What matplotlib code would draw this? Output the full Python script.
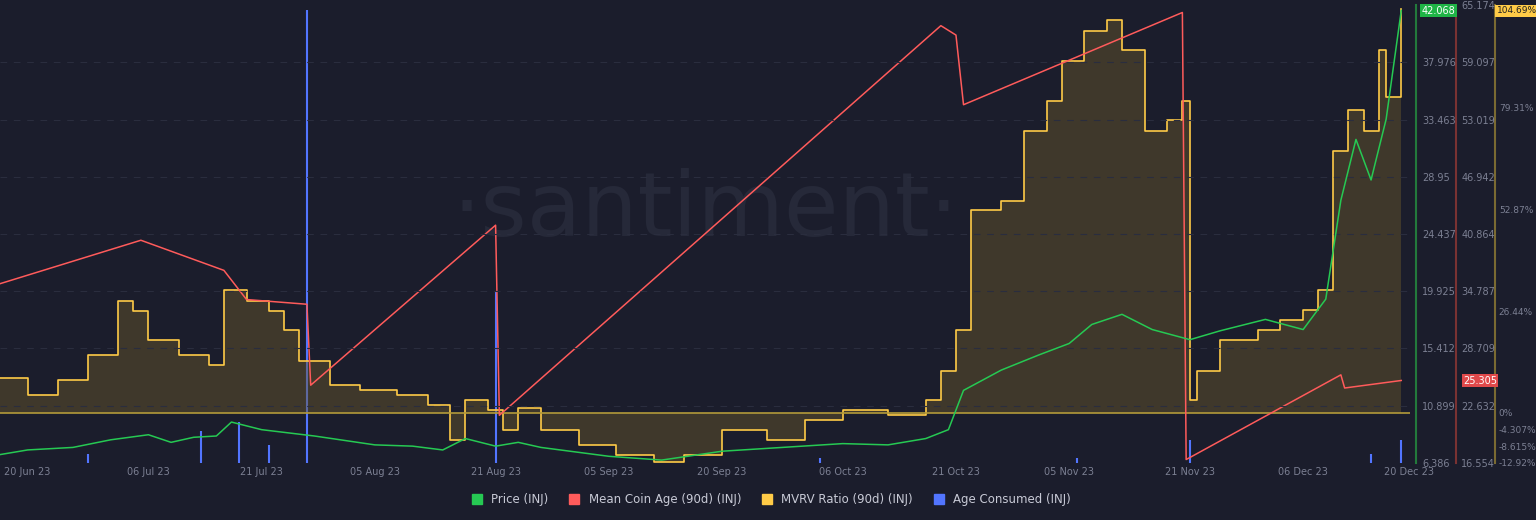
import numpy as np
import matplotlib.pyplot as plt
import pandas as pd
from matplotlib.lines import Line2D

# ---- data ----
price_dates = ["2023-06-16", "2023-06-20", "2023-06-26", "2023-07-01", "2023-07-06", "2023-07-09", "2023-07-12",
               "2023-07-15", "2023-07-17", "2023-07-21", "2023-07-28", "2023-08-05", "2023-08-10", "2023-08-14",
               "2023-08-17", "2023-08-21", "2023-08-24", "2023-08-27", "2023-09-05", "2023-09-12", "2023-09-20",
               "2023-09-28", "2023-10-06", "2023-10-12", "2023-10-17", "2023-10-20", "2023-10-22", "2023-10-27",
               "2023-11-01", "2023-11-05", "2023-11-08", "2023-11-12", "2023-11-16", "2023-11-21", "2023-11-25",
               "2023-12-01", "2023-12-06", "2023-12-09", "2023-12-11", "2023-12-13", "2023-12-15", "2023-12-17",
               "2023-12-19"]
price = [7.0, 7.4, 7.6, 8.2, 8.6, 8.0, 8.4, 8.5, 9.6, 9.0, 8.5, 7.8, 7.7, 7.4,
         8.3, 7.7, 8.0, 7.6, 6.9, 6.6, 7.3, 7.6, 7.9, 7.8, 8.3, 9.0, 12.1, 13.7,
         14.9, 15.8, 17.3, 18.1, 16.9, 16.1, 16.8, 17.7, 16.9, 19.3, 27.1, 31.9, 28.7, 33.5,
         42.07]

age_dates = ["2023-06-16 00:00", "2023-07-05 00:00", "2023-07-16 00:00", "2023-07-19 00:00", "2023-07-27 00:00",
             "2023-07-27 12:00", "2023-08-21 00:00", "2023-08-21 12:00", "2023-10-19 00:00", "2023-10-21 00:00",
             "2023-10-22 00:00", "2023-11-20 00:00", "2023-11-20 12:00", "2023-12-11 00:00", "2023-12-11 12:00",
             "2023-12-19 00:00"]
mean_age = [35.5, 40.2, 37.0, 33.9, 33.4, 24.8,
            41.8, 21.6, 63.0, 62.0, 54.6, 64.4,
            16.9, 25.9, 24.5, 25.3]

mvrv_dates = ["2023-06-16", "2023-06-20", "2023-06-24", "2023-06-28", "2023-07-02", "2023-07-04", "2023-07-06",
              "2023-07-10", "2023-07-14", "2023-07-16", "2023-07-19", "2023-07-22", "2023-07-24", "2023-07-26",
              "2023-07-30", "2023-08-03", "2023-08-08", "2023-08-12", "2023-08-15", "2023-08-17", "2023-08-20",
              "2023-08-22", "2023-08-24", "2023-08-27", "2023-09-01", "2023-09-06", "2023-09-11", "2023-09-15",
              "2023-09-20", "2023-09-26", "2023-10-01", "2023-10-06", "2023-10-12", "2023-10-17", "2023-10-19",
              "2023-10-21", "2023-10-23", "2023-10-27", "2023-10-30", "2023-11-02", "2023-11-04", "2023-11-07",
              "2023-11-10", "2023-11-12", "2023-11-15", "2023-11-18", "2023-11-20", "2023-11-21", "2023-11-22",
              "2023-11-25", "2023-11-30", "2023-12-03", "2023-12-06", "2023-12-08", "2023-12-10", "2023-12-12",
              "2023-12-14", "2023-12-16", "2023-12-17", "2023-12-19"]
mvrv = [9.0, 4.7, 8.5, 15.0, 29.0, 26.5, 19.0,
        15.0, 12.4, 32.0, 29.0, 26.5, 21.5, 13.5,
        7.3, 6.0, 4.7, 2.0, -7.0, 3.4, 0.8,
        -4.4, 1.3, -4.4, -8.3, -10.9, -12.7, -10.9,
        -4.4, -7.0, -1.8, 0.8, -0.5, 3.4, 11.0,
        21.5, 52.6, 55.0, 73.0, 81.0, 91.4, 99.0,
        102.0, 94.0, 73.0, 76.0, 81.0, 3.4, 11.0,
        19.0, 21.5, 24.0, 26.7, 32.0, 68.0, 78.5,
        73.0, 94.0, 82.0, 104.69]

spike_dates = ["2023-06-28", "2023-07-13", "2023-07-18", "2023-07-22", "2023-07-27", "2023-08-21",
               "2023-10-03", "2023-11-06", "2023-11-21", "2023-12-15", "2023-12-19"]
age_consumed = [0.02, 0.07, 0.09, 0.04, 1.0, 0.38, 0.01, 0.01, 0.05, 0.02, 0.05]

bg = "#1b1d2c"
grey = "#7c8093"
c_price, c_age, c_mvrv, c_cons = "#26c953", "#ff5b5b", "#ffcb47", "#5275ff"

fig = plt.figure(figsize=(15.36, 5.2), dpi=100, facecolor=bg)
ax = fig.add_axes([0.0, 0.11, 0.918, 0.88], facecolor=bg)
pd_ = pd.to_datetime
xmin, xmax = pd_("2023-06-16 08:00"), pd_("2023-12-20 04:00")

# age consumed spikes (hidden axis)
ax.vlines(pd_(spike_dates), 0, age_consumed, color=c_cons, lw=1.5)
ax.set_ylim(0, 1.01)
ax.set_yticks([])
ax.set_xlim(xmin, xmax)
for s in ax.spines.values():
    s.set_visible(False)
ticks = pd_(["2023-06-20", "2023-07-06", "2023-07-21", "2023-08-05", "2023-08-21", "2023-09-05",
             "2023-09-20", "2023-10-06", "2023-10-21", "2023-11-05", "2023-11-21", "2023-12-06", "2023-12-20"])
ax.set_xticks(ticks)
ax.set_xticklabels([t.strftime("%d %b %y") for t in ticks], color=grey, fontsize=7)
ax.tick_params(axis="x", length=0, pad=3)


def side(offset, color, lo, hi, tks, labels, pad=4, fs=7):
    a = ax.twinx()
    a.set_ylim(lo, hi)
    a.set_xlim(xmin, xmax)
    for k, s in a.spines.items():
        s.set_visible(k == "right")
    a.spines["right"].set_position(("axes", offset))
    a.spines["right"].set_color(color)
    a.spines["right"].set_linewidth(1.5)
    a.set_yticks(tks)
    a.set_yticklabels(labels, color=grey, fontsize=fs)
    a.tick_params(axis="y", length=0, pad=pad)
    return a


p_ticks = [6.386, 10.899, 15.412, 19.925, 24.437, 28.95, 33.463, 37.976]
a_ticks = [16.554, 22.632, 28.709, 34.787, 40.864, 46.942, 53.019, 59.097, 65.174]
m_ticks = [-12.92, -8.615, -4.307, 0, 26.44, 52.87, 79.31]
m_labels = ["-12.92%", "-8.615%", "-4.307%", "0%", "26.44%", "52.87%", "79.31%"]

ax_m = side(1.0600, "#7a6a32", -12.92, 105.74, m_ticks, m_labels, pad=3, fs=6.5)
ax_a = side(1.0325, "#7a3232", 16.554, 65.174, a_ticks, [str(v) for v in a_ticks])
ax_p = side(1.0045, "#237a3c", 6.386, 42.489, p_ticks, [str(v) for v in p_ticks])
for t in p_ticks[1:]:
    ax_p.axhline(t, color="#2a2d3e", lw=0.8, ls=(0, (6, 6)), zorder=0)

md = pd_(mvrv_dates)
ax_m.fill_between(md, mvrv, 0, step="post", color="#6b5a2a", alpha=0.45, lw=0)
ax_m.step(md, mvrv, where="post", color=c_mvrv, lw=1.2)
ax_m.axhline(0, color="#b39a3a", lw=1.2)
ax_a.plot(pd_(age_dates), mean_age, color=c_age, lw=1.1)
ax_p.plot(pd_(price_dates), price, color=c_price, lw=1.1)

ax.text(0.5, 0.55, "·santiment·", transform=ax.transAxes, ha="center", va="center",
        fontsize=64, color="#262939", zorder=0)

# last value badges
bbox = lambda c: dict(boxstyle="square,pad=0.15", fc=c, ec="none")
fig.text(0.9255, 0.979, "42.068", color="white", fontsize=7, ha="left", va="center", bbox=bbox("#1fb446"))
fig.text(0.9525, 0.268, "25.305", color="white", fontsize=7, ha="left", va="center", bbox=bbox("#e0494b"))
fig.text(0.9745, 0.979, "104.69%", color="#222", fontsize=6.5, ha="left", va="center", bbox=bbox(c_mvrv))

# legend
handles = [Line2D([], [], marker="s", ls="", color=c, markersize=7) for c in (c_price, c_age, c_mvrv, c_cons)]
names = ["Price (INJ)", "Mean Coin Age (90d) (INJ)", "MVRV Ratio (90d) (INJ)", "Age Consumed (INJ)"]
fig.legend(handles, names, loc="center", bbox_to_anchor=(0.5, 0.04), ncol=4, frameon=False,
           fontsize=8.5, labelcolor="#c8cad6", handletextpad=0.2, columnspacing=1.2)

fig.savefig("out.png", dpi=100, facecolor=bg)
